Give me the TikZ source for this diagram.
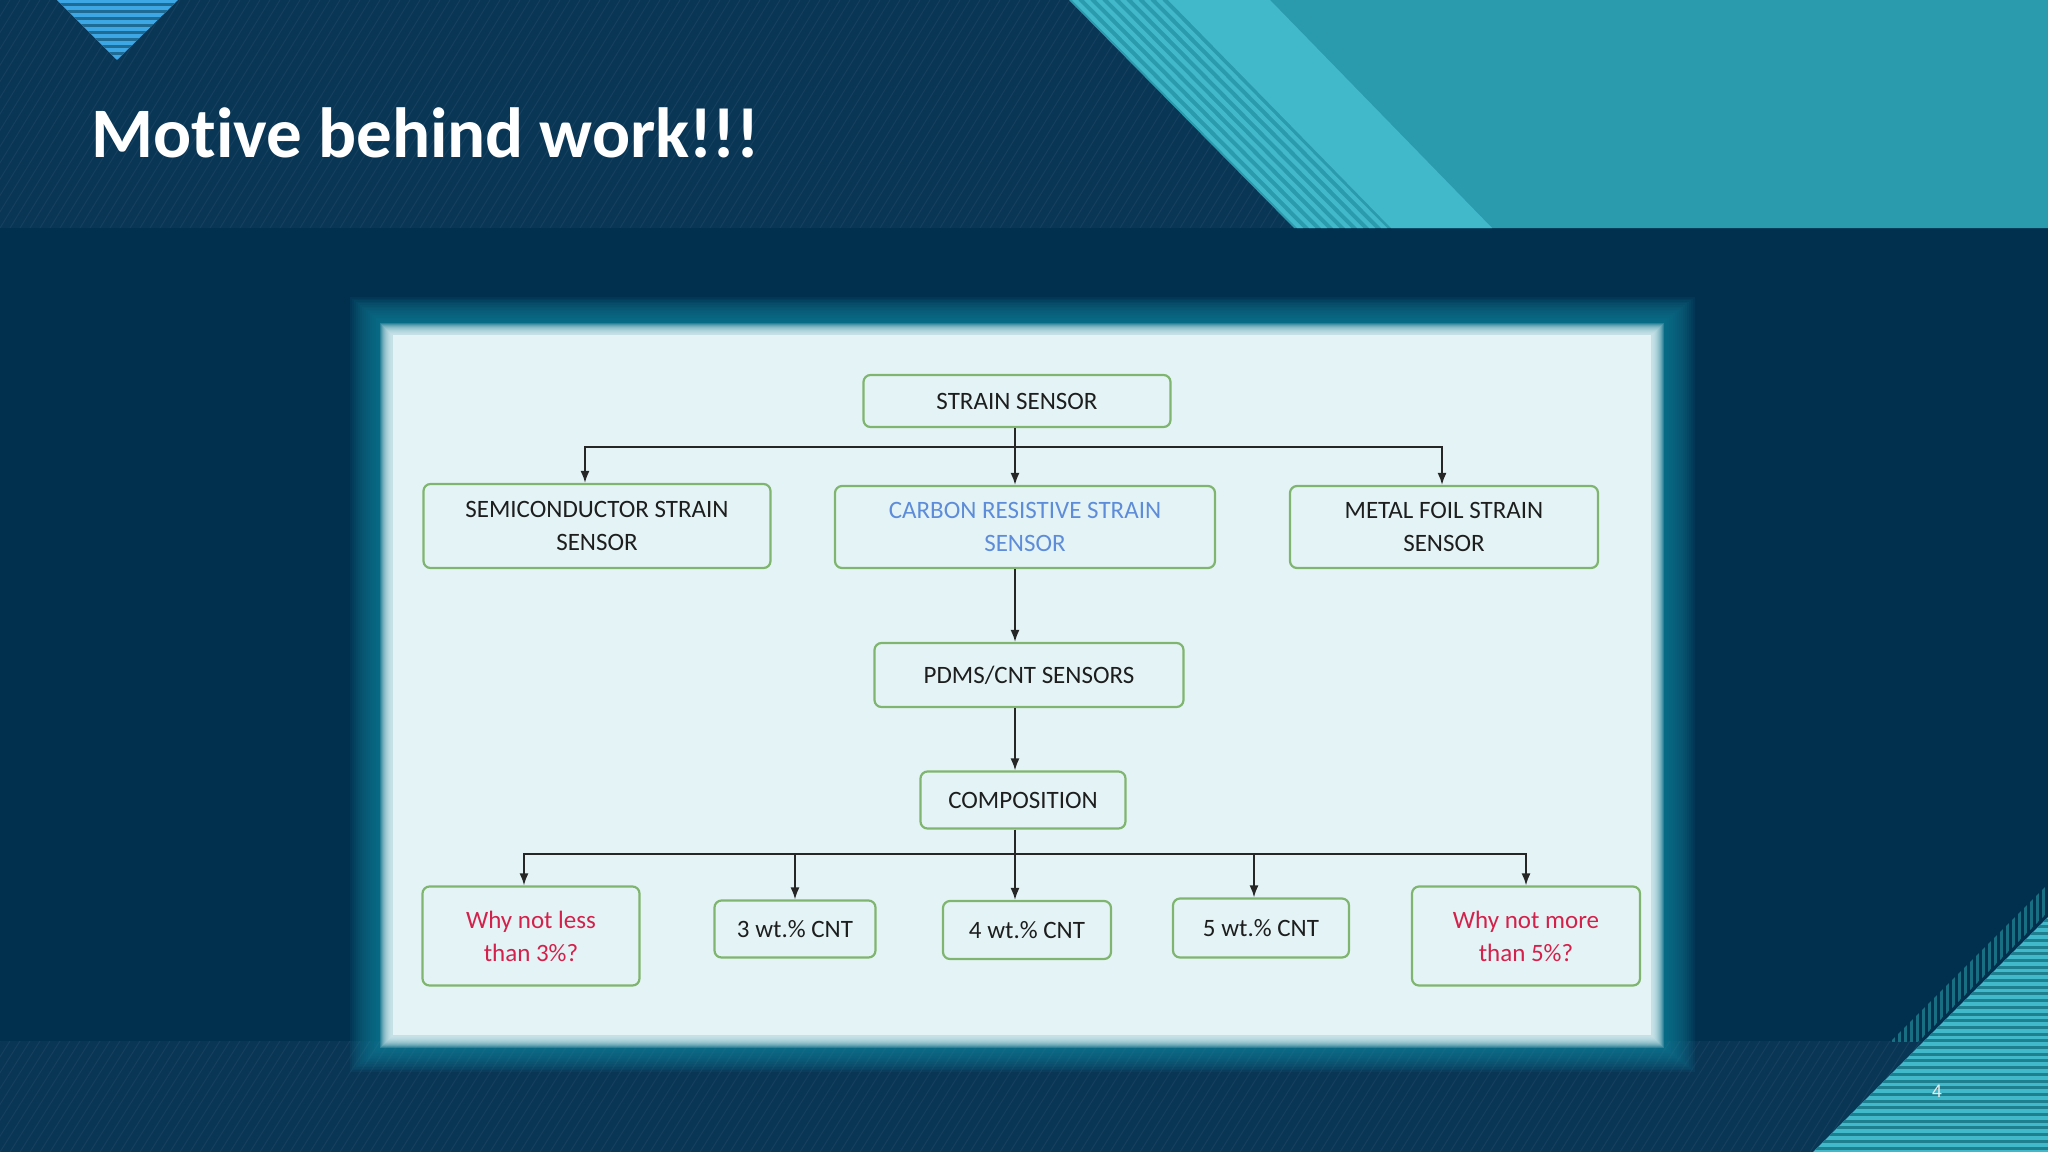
\documentclass[tikz,border=0pt]{standalone}
\usepackage{fontspec}
\setmainfont[Ligatures=NoCommon]{Carlito}
\newfontfamily\numfont{Liberation Sans}
\usetikzlibrary{arrows.meta}
\definecolor{navymain}{HTML}{01304F}
\definecolor{navyhead}{HTML}{0A3656}
\definecolor{tealmain}{HTML}{2A9BAD}
\definecolor{teallight}{HTML}{42B9CB}
\definecolor{tealdark}{HTML}{1E7F8F}
\definecolor{triblue}{HTML}{3DA6E4}
\definecolor{triline}{HTML}{1E6C96}
\definecolor{panelbg}{HTML}{E4F4F6}
\definecolor{glowc}{HTML}{13809A}
\definecolor{boxgreen}{HTML}{7FB56E}
\definecolor{txtdark}{HTML}{1E1E1E}
\definecolor{txtblue}{HTML}{5E8CD8}
\definecolor{txtred}{HTML}{D4214B}
\tikzset{
  box/.style={draw=boxgreen, line width=2.2pt, rounded corners=7pt, fill=panelbg,
    align=center, text=txtdark, font=\fontsize{25}{33}\selectfont, inner sep=0pt},
  conn/.style={draw=black!85, line width=1.7pt},
  arr/.style={conn, -{Latex[length=12pt,width=9pt]}},
  hatch/.style={white, opacity=0.05, line width=0.9pt},
}
\begin{document}
\begin{tikzpicture}[x=1pt,y=-1pt]
\useasboundingbox (0,0) rectangle (2048,1152);
% backgrounds
\fill[navymain] (0,0) rectangle (2048,1152);
\fill[navyhead] (0,0) rectangle (2048,228);
\fill[navyhead] (0,1041) rectangle (2048,1152);
\begin{scope}
  \clip (0,0) rectangle (2048,228);
  \foreach \k in {0,10,...,2300} { \draw[hatch] ({\k-140},228) -- (\k,0); }
\end{scope}
\begin{scope}
  \clip (0,1041) rectangle (2048,1152);
  \foreach \k in {0,10,...,2300} { \draw[hatch] ({\k-70},1152) -- (\k,1041); }
\end{scope}
% top-left striped triangle
\begin{scope}
  \clip (57,0) -- (178,0) -- (117,60) -- cycle;
  \fill[triblue] (50,0) rectangle (190,62);
  \foreach \k in {3,10,...,62} { \fill[triline] (50,\k) rectangle (190,{\k+2.5}); }
\end{scope}
% top-right teal shapes
\fill[tealmain] (1069,0) -- (2048,0) -- (2048,228) -- (1294,228) -- cycle;
\fill[teallight] (1168,0) -- (1270,0) -- (1492,228) -- (1391,228) -- cycle;
\foreach \s in {0,...,7} {
  \fill[teallight] ({1072+12*\s},0) -- ({1078+12*\s},0) -- ({1303+12*\s},228) -- ({1297+12*\s},228) -- cycle;
}
% title
\node[font=\bfseries\fontsize{71}{71}\selectfont, text=white, anchor=base west, inner sep=0pt] (title) at (91,157) {Motive behind work!!!};
% glow and panel
\foreach \i in {0,...,19} {
  \fill[glowc, opacity=0.09] ({350+2*\i},{297+1.6*\i}) rectangle ({1695-2*\i},{1072-1.6*\i});
}
\foreach \i in {0,...,11} {
  \fill[panelbg, opacity=0.16] ({380+\i},{323+\i}) rectangle ({1664-\i},{1048-\i});
}
\fill[panelbg] (393,335) rectangle (1651,1035);
% nodes
\node[box, minimum width=307pt, minimum height=52pt] (ss) at (1017,401) {STRAIN SENSOR};
\node[box, minimum width=347pt, minimum height=84pt] (semi) at (597,526) {SEMICONDUCTOR STRAIN\\SENSOR};
\node[box, minimum width=380pt, minimum height=82pt, text=txtblue] (carbon) at (1025,527) {CARBON RESISTIVE STRAIN\\SENSOR};
\node[box, minimum width=308pt, minimum height=82pt] (metal) at (1444,527) {METAL FOIL STRAIN\\SENSOR};
\node[box, minimum width=309pt, minimum height=64pt] (pdms) at (1029,675) {PDMS/CNT SENSORS};
\node[box, minimum width=205pt, minimum height=57pt] (comp) at (1023,800) {COMPOSITION};
\node[box, minimum width=217pt, minimum height=99pt, text=txtred] (less) at (531,936) {Why not less\\than 3\%?};
\node[box, minimum width=161pt, minimum height=57pt] (w3) at (795,929) {3 wt.\% CNT};
\node[box, minimum width=168pt, minimum height=58pt] (w4) at (1027,930) {4 wt.\% CNT};
\node[box, minimum width=176pt, minimum height=59pt] (w5) at (1261,928) {5 wt.\% CNT};
\node[box, minimum width=228pt, minimum height=99pt, text=txtred] (more) at (1526,936) {Why not more\\than 5\%?};
% connectors
\coordinate (stem) at (1015,0);
\coordinate (bus1) at (1015,447);
\coordinate (bus2) at (1015,854);
\draw[conn] (ss.south -| stem) -- (bus1);
\draw[arr] (bus1) -| ([xshift=-12pt]semi.north);
\draw[arr] (bus1) -| ([xshift=-2pt]metal.north);
\draw[arr] (bus1) -- (carbon.north -| stem);
\draw[arr] (carbon.south -| stem) -- (pdms.north -| stem);
\draw[arr] (pdms.south -| stem) -- (comp.north -| stem);
\draw[conn] (comp.south -| stem) -- (bus2);
\draw[arr] (bus2) -| ([xshift=-7pt]less.north);
\draw[arr] (bus2) -| (more.north);
\draw[arr] (w3.north |- bus2) -- (w3.north);
\draw[arr] (bus2) -- (w4.north -| stem);
\draw[arr] ([xshift=-7pt]w5.north |- bus2) -- ([xshift=-7pt]w5.north);
% bottom-right stripes
\begin{scope}
  \clip (1890,1042) -- (2048,884) -- (2048,912) -- (1918,1042) -- cycle;
  \foreach \k in {1886,1892,...,2050} { \fill[tealdark!80!navymain] (\k,880) rectangle ({\k+2.5},1042); }
\end{scope}
\begin{scope}
  \clip (1813,1152) -- (2048,917) -- (2048,1152) -- cycle;
  \fill[teallight] (1800,910) rectangle (2048,1152);
  \foreach \k in {912,918.7,...,1152} { \fill[tealdark] (1800,\k) rectangle (2048,{\k+3}); }
\end{scope}
\node[text=white!92!black, font=\numfont\fontsize{18}{18}\selectfont, inner sep=0pt] (pnum) at (1937,1091) {4};
\end{tikzpicture}
\end{document}
